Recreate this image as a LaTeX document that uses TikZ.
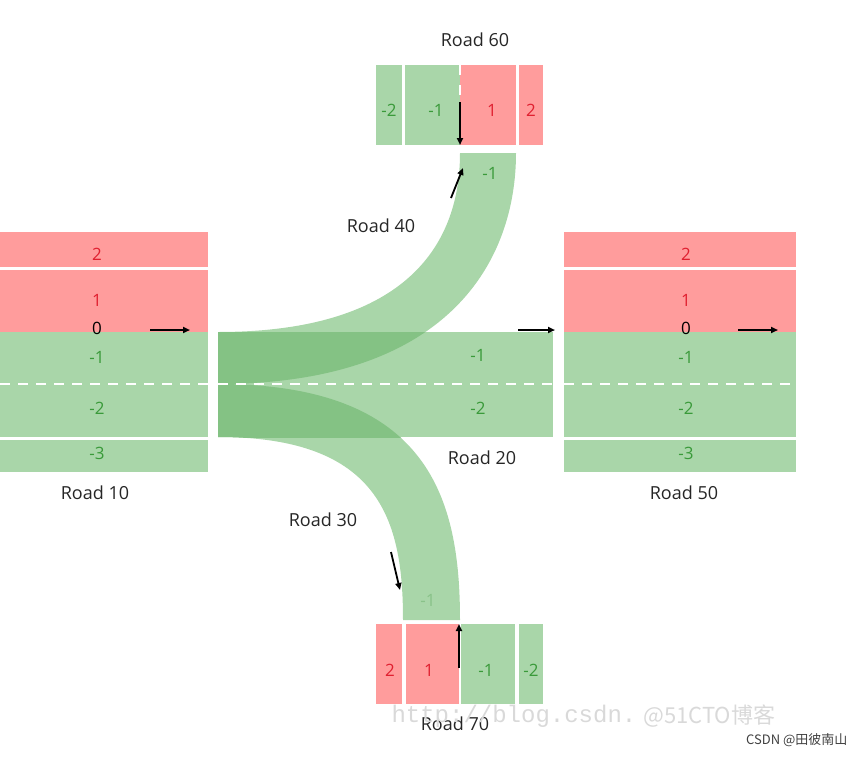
\documentclass[tikz,border=0pt]{standalone}
\usepackage{fontspec}
\setmainfont{Open Sans}
\newfontfamily\cjk{Noto Sans CJK SC}
\newfontfamily\wmono{Liberation Mono}
\usetikzlibrary{arrows.meta}
\definecolor{gb}{HTML}{A9D6A9}
\definecolor{gd}{HTML}{84C284}
\definecolor{rb}{HTML}{FF9C9C}
\definecolor{gt}{HTML}{3A9A3A}
\definecolor{rt}{HTML}{E02030}
\begin{document}
\begin{tikzpicture}[x=1pt,y=-1pt,
  num/.style={font=\fontsize{17}{17}\selectfont},
  gnum/.style={num,text=gt},
  rnum/.style={num,text=rt},
  lbl/.style={font=\fontsize{18}{18}\selectfont,text=black!85},
  wl/.style={white,line width=2.5pt},
  wd/.style={white,line width=2.5pt,dash pattern=on 10pt off 8pt},
  arr/.style={-{Triangle[length=7pt,width=6pt]},line width=1.8pt}]
\useasboundingbox (0,0) rectangle (865,758);
% Road 10 and Road 50
\foreach \x/\w/\n in {0/208/a,564/232/b}{
  \fill[rb] (\x,232) rectangle ++(\w,100);
  \fill[gb] (\x,332) rectangle ++(\w,140);
  \draw[wl] (\x,268.5) -- ++(\w,0);
  \draw[wl] (\x,438.5) -- ++(\w,0);
  \draw[wd] (\x,384) -- ++(\w,0);
}
\node[rnum] (a2) at (97,254) {2};
\node[rnum] (a1) at (97,300) {1};
\node[num] (a0) at (97,328) {0};
\node[gnum] (am1) at (97,357) {-1};
\node[gnum] (am2) at (97,408) {-2};
\node[gnum] (am3) at (97,453) {-3};
\node[lbl] (r10) at (95,493) {Road 10};
\node[rnum] (b2) at (686,254) {2};
\node[rnum] (b1) at (686,300) {1};
\node[num] (b0) at (686,328) {0};
\node[gnum] (bm1) at (686,357) {-1};
\node[gnum] (bm2) at (686,408) {-2};
\node[gnum] (bm3) at (686,453) {-3};
\node[lbl] (r50) at (684,493) {Road 50};
\coordinate (a0s) at (150,330); \coordinate (a0e) at (190,330);
\draw[arr] (a0s) -- (a0e);
\coordinate (b0s) at (738,330); \coordinate (b0e) at (778,330);
\draw[arr] (b0s) -- (b0e);
% Road 20 and curves
\def\rfortypath{(218,332) .. controls (400,332) and (460,250) .. (460,153) -- (516,153) .. controls (516,260) and (450,384) .. (218,384) -- cycle}
\def\rthirtypath{(218,384) .. controls (430,384) and (460,500) .. (460,620) -- (403,620) .. controls (403,520) and (380,437) .. (218,437) -- cycle}
\fill[gb] (218,332) rectangle (553,437);
\fill[gb] \rfortypath;
\fill[gb] \rthirtypath;
\begin{scope}
\clip (218,332) rectangle (553,437);
\fill[gd] \rfortypath;
\fill[gd] \rthirtypath;
\end{scope}
\draw[wd] (218,384) -- (553,384);
\node[gnum] (cm1) at (478,355) {-1};
\node[gnum] (cm2) at (478,408) {-2};
\node[lbl] (r20) at (482,458) {Road 20};
\coordinate (c0s) at (518,330); \coordinate (c0e) at (555,330);
\draw[arr] (c0s) -- (c0e);
\node[lbl] (r40) at (381,226) {Road 40};
\node[gnum] (dm1) at (490,173) {-1};
\coordinate (d0s) at (451,198); \coordinate (d0e) at (463,168);
\draw[arr] (d0s) -- (d0e);
\node[lbl] (r30) at (323,520) {Road 30};
\node[num,text=gt!60] (em1) at (428,600) {-1};
\coordinate (e0s) at (391,552); \coordinate (e0e) at (400,590);
\draw[arr] (e0s) -- (e0e);
% Road 60
\fill[gb] (376,65) rectangle (402,145);
\fill[gb] (405,65) rectangle (460,145);
\fill[rb] (460,65) rectangle (516,145);
\fill[rb] (519,65) rectangle (543,145);
\draw[white,line width=2pt] (460,65) -- (460,75);
\draw[white,line width=2pt] (460,85) -- (460,95);
\node[gnum] (fm2) at (389,110) {-2};
\node[gnum] (fm1) at (436,110) {-1};
\node[rnum] (f1) at (492,110) {1};
\node[rnum] (f2) at (531,110) {2};
\node[lbl] (r60) at (475,40) {Road 60};
\coordinate (f0s) at (460,102); \coordinate (f0e) at (460,145);
\draw[arr] (f0s) -- (f0e);
% Road 70
\fill[rb] (376,624) rectangle (402,704);
\fill[rb] (406,624) rectangle (459,704);
\fill[gb] (461,624) rectangle (515,704);
\fill[gb] (519,624) rectangle (543,704);
\draw[white,line width=2pt] (460,670) -- (460,680);
\draw[white,line width=2pt] (460,690) -- (460,700);
\node[rnum] (g2) at (390,670) {2};
\node[rnum] (g1) at (429,670) {1};
\node[gnum] (gm1) at (486,670) {-1};
\node[gnum] (gm2) at (531,670) {-2};
\node[lbl] (r70) at (455,724) {Road 70};
\coordinate (g0s) at (459,668); \coordinate (g0e) at (459,624);
\draw[arr] (g0s) -- (g0e);
% watermarks
\node[anchor=west,text=black!15,font=\wmono\fontsize{24}{24}\selectfont] (wm1) at (388,716) {http://blog.csdn.};
\node[anchor=west,text=black!15,font=\cjk\fontsize{22}{22}\selectfont] (wm2) at (640,716) {@51CTO博客};
\node[anchor=east,text=black!75,font=\cjk\fontsize{13}{13}\selectfont] (wm3) at (851,740) {CSDN @田彼南山};
\end{tikzpicture}
\end{document}
